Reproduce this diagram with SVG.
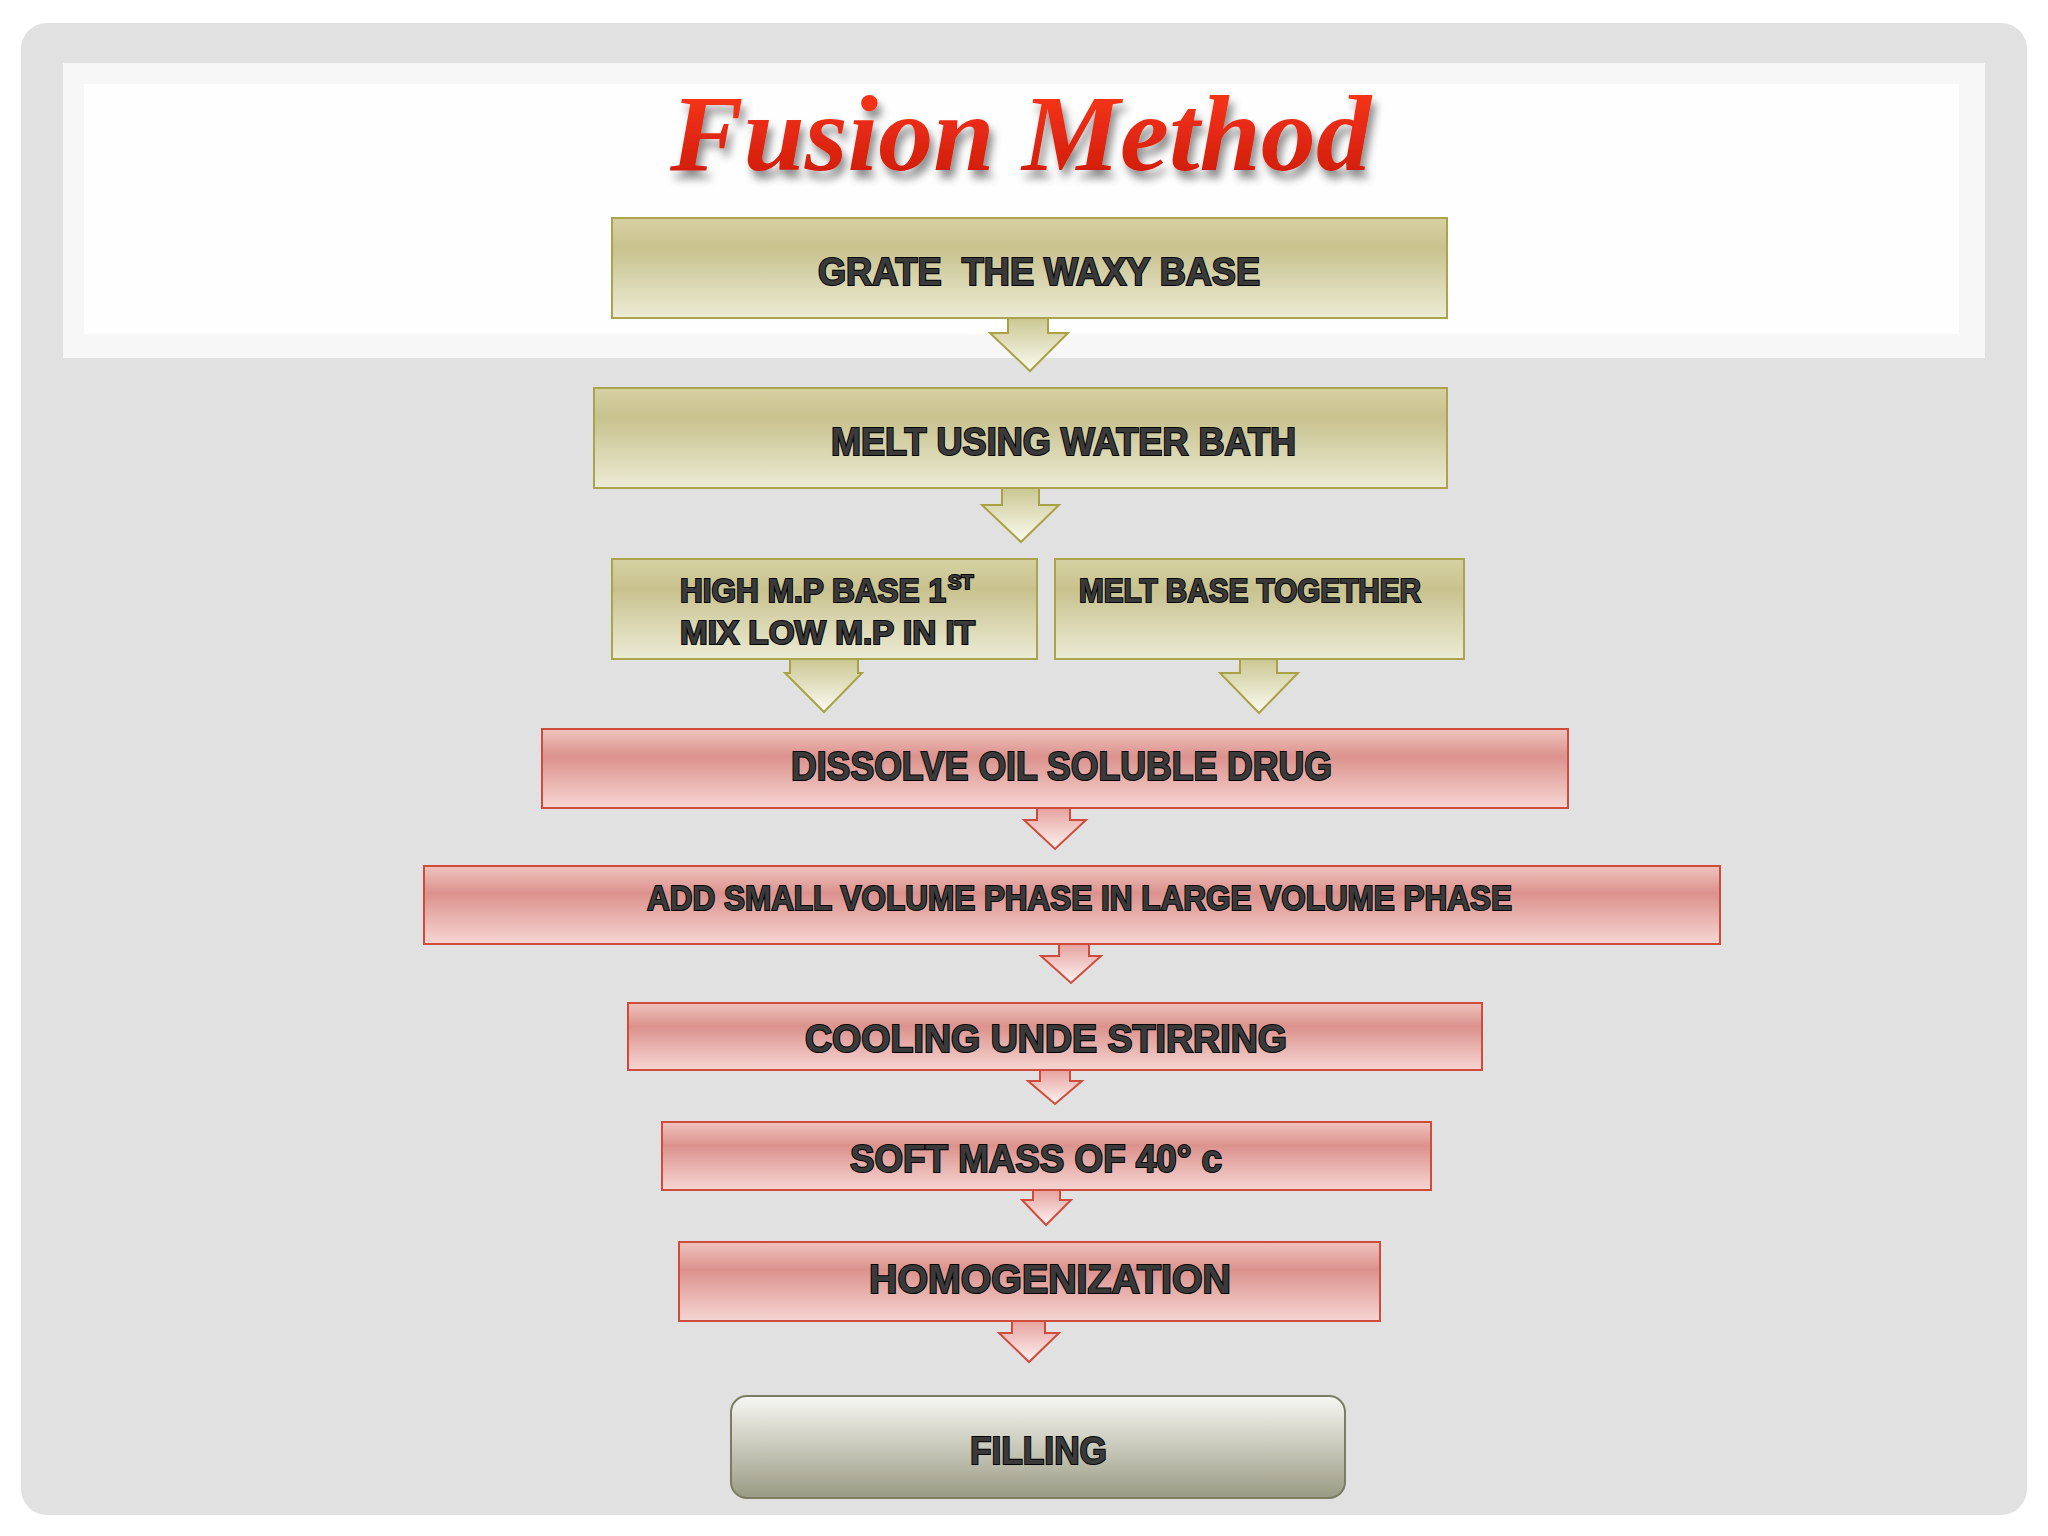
<svg xmlns="http://www.w3.org/2000/svg" width="2048" height="1536" viewBox="0 0 2048 1536">
<defs>
<linearGradient id="gOlive" x1="0" y1="0" x2="0" y2="1">
<stop offset="0" stop-color="#d6d1a3"/><stop offset="0.3" stop-color="#c8c28e"/><stop offset="1" stop-color="#ecebd5"/>
</linearGradient>
<linearGradient id="gRed" x1="0" y1="0" x2="0" y2="1">
<stop offset="0" stop-color="#efc3be"/><stop offset="0.35" stop-color="#dc928d"/><stop offset="1" stop-color="#f6d6d3"/>
</linearGradient>
<linearGradient id="gFill" x1="0" y1="0" x2="0" y2="1">
<stop offset="0" stop-color="#f7f7f3"/><stop offset="1" stop-color="#9a9b83"/>
</linearGradient>
<linearGradient id="gArrO" x1="0" y1="0" x2="0" y2="1">
<stop offset="0" stop-color="#cbc792"/><stop offset="1" stop-color="#fbfbf2"/>
</linearGradient>
<linearGradient id="gArrR" x1="0" y1="0" x2="0" y2="1">
<stop offset="0" stop-color="#e6a29e"/><stop offset="1" stop-color="#fdf3f2"/>
</linearGradient>
<linearGradient id="gTitle" x1="0" y1="0" x2="0" y2="1">
<stop offset="0" stop-color="#ff3a1c"/><stop offset="1" stop-color="#c8180a"/>
</linearGradient>
<filter id="shadow" x="-10%" y="-20%" width="120%" height="150%">
<feDropShadow dx="4" dy="8" stdDeviation="4" flood-color="#000" flood-opacity="0.45"/>
</filter>
</defs>
<style>
.olive{fill:url(#gOlive);stroke:#aaa44e;stroke-width:2}
.red{fill:url(#gRed);stroke:#cf4b3b;stroke-width:2}
.fill{fill:url(#gFill);stroke:#7b7d62;stroke-width:2}
.ao{fill:url(#gArrO);stroke:#a8a245;stroke-width:2}
.ar{fill:url(#gArrR);stroke:#cf4b3b;stroke-width:2}
.lbl{font-family:"Liberation Sans",Arial,sans-serif;font-weight:bold;fill:#3a3a3a;stroke:#000;stroke-width:2;paint-order:stroke;text-anchor:start}
</style>
<rect x="0" y="0" width="2048" height="1536" fill="#ffffff"/>
<rect x="21" y="23" width="2006" height="1492" rx="26" fill="#e1e1e1"/>
<rect x="63" y="63" width="1922" height="295" fill="#f7f7f7"/>
<rect x="84" y="84" width="1875" height="250" fill="#fefefe"/>
<text x="670" y="170" textLength="701" lengthAdjust="spacingAndGlyphs" font-family="'Liberation Serif','Times New Roman',serif" font-weight="bold" font-style="italic" font-size="108" fill="url(#gTitle)" filter="url(#shadow)">Fusion Method</text>
<g id="connectors">
<path class="ao" d="M1008 318 V333 H990 L1030 371 L1068 333 H1048 V318"/>
<path class="ao" d="M1002 488 V505 H982 L1021 542 L1059 505 H1039 V488"/>
<path class="ao" d="M790 659 V673 H785 L824 712 L862 673 H858 V659"/>
<path class="ao" d="M1240 659 V673 H1220 L1259 713 L1298 673 H1277 V659"/>
<path class="ar" d="M1037 808 V820 H1024 L1055 849 L1086 820 H1070 V808"/>
<path class="ar" d="M1059 944 V956 H1041 L1071 983 L1101 956 H1089 V944"/>
<path class="ar" d="M1040 1070 V1081 H1028 L1055 1104 L1082 1081 H1070 V1070"/>
<path class="ar" d="M1033 1190 V1200 H1022 L1046 1225 L1071 1200 H1060 V1190"/>
<path class="ar" d="M1012 1321 V1333 H999 L1029 1362 L1059 1333 H1045 V1321"/>
</g>
<g id="n1"><rect class="olive" x="612" y="218" width="835" height="100"/>
<text class="lbl" x="818" y="285" font-size="38" textLength="442" lengthAdjust="spacingAndGlyphs" xml:space="preserve">GRATE  THE WAXY BASE</text></g>
<g id="n2"><rect class="olive" x="594" y="388" width="853" height="100"/>
<text class="lbl" x="831" y="455" font-size="39" textLength="465" lengthAdjust="spacingAndGlyphs">MELT USING WATER BATH</text></g>
<g id="n3a"><rect class="olive" x="612" y="559" width="425" height="100"/>
<text class="lbl" x="680" y="602" font-size="33"><tspan textLength="266" lengthAdjust="spacingAndGlyphs">HIGH M.P BASE 1</tspan><tspan font-size="20" dx="2" dy="-13">ST</tspan></text>
<text class="lbl" x="680" y="644" font-size="33" textLength="295" lengthAdjust="spacingAndGlyphs">MIX LOW M.P IN IT</text></g>
<g id="n3b"><rect class="olive" x="1055" y="559" width="409" height="100"/>
<text class="lbl" x="1079" y="602" font-size="33" textLength="342" lengthAdjust="spacingAndGlyphs">MELT BASE TOGETHER</text></g>
<g id="n4"><rect class="red" x="542" y="729" width="1026" height="79"/>
<text class="lbl" x="791" y="780" font-size="41" textLength="541" lengthAdjust="spacingAndGlyphs">DISSOLVE OIL SOLUBLE DRUG</text></g>
<g id="n5"><rect class="red" x="424" y="866" width="1296" height="78"/>
<text class="lbl" x="647" y="910" font-size="35" textLength="865" lengthAdjust="spacingAndGlyphs">ADD SMALL VOLUME PHASE IN LARGE VOLUME PHASE</text></g>
<g id="n6"><rect class="red" x="628" y="1003" width="854" height="67"/>
<text class="lbl" x="805" y="1052" font-size="39" textLength="482" lengthAdjust="spacingAndGlyphs">COOLING UNDE STIRRING</text></g>
<g id="n7"><rect class="red" x="662" y="1122" width="769" height="68"/>
<text class="lbl" x="850" y="1172" font-size="39" textLength="372" lengthAdjust="spacingAndGlyphs">SOFT MASS OF 40° c</text></g>
<g id="n8"><rect class="red" x="679" y="1242" width="701" height="79"/>
<text class="lbl" x="869" y="1293" font-size="40" textLength="362" lengthAdjust="spacingAndGlyphs">HOMOGENIZATION</text></g>
<g id="n9"><rect class="fill" x="731" y="1396" width="614" height="102" rx="16"/>
<text class="lbl" x="970" y="1464" font-size="39" textLength="137" lengthAdjust="spacingAndGlyphs">FILLING</text></g>
</svg>
